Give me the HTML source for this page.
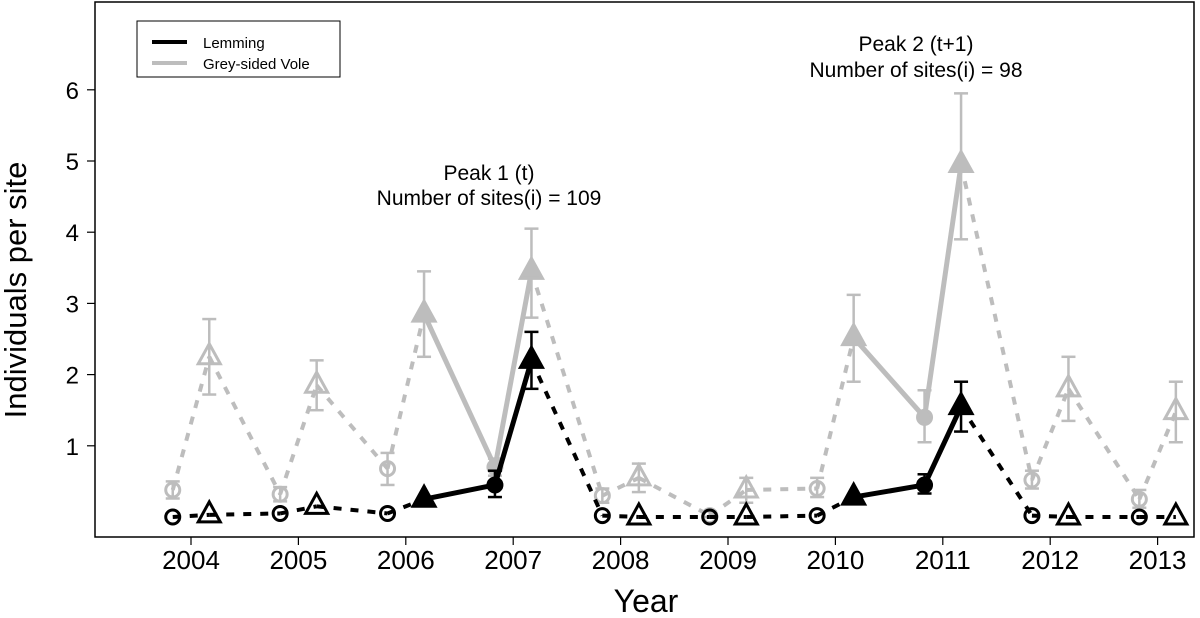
<!DOCTYPE html>
<html><head><meta charset="utf-8"><style>
body{margin:0;background:#fff}
svg{display:block;font-family:"Liberation Sans",sans-serif}
</style></head><body>
<svg id="chart" width="1200" height="618" viewBox="0 0 1200 618">
<rect x="95" y="2" width="1099" height="535" fill="none" stroke="#000" stroke-width="1.5"/>
<g id="g"></g>
<text x="26" y="290" font-size="31" text-anchor="middle" transform="rotate(-90 26 290)">Individuals per site</text>
<text x="646" y="612" font-size="32" text-anchor="middle">Year</text>
<text x="489" y="180" font-size="21" text-anchor="middle">Peak 1 (t)</text>
<text x="489" y="205" font-size="21" text-anchor="middle">Number of sites(i) = 109</text>
<text x="916" y="51" font-size="21" text-anchor="middle">Peak 2 (t+1)</text>
<text x="916" y="77" font-size="21" text-anchor="middle">Number of sites(i) = 98</text>
<g>
<rect x="137" y="21" width="203" height="56" fill="#fff" stroke="#000" stroke-width="1"/>
<line x1="152" y1="42" x2="187" y2="42" stroke="#000" stroke-width="4"/>
<text x="203" y="48" font-size="15">Lemming</text>
<line x1="152" y1="63" x2="187" y2="63" stroke="#bdbdbd" stroke-width="4"/>
<text x="203" y="69" font-size="15">Grey-sided Vole</text>
</g>
</svg>
<script>
const years=[2004,2005,2006,2007,2008,2009,2010,2011,2012,2013];
const yTicks=[1,2,3,4,5,6];
const lemCirc=[0,0.05,0.05,0.45,0.02,0,0.02,0.45,0.02,0];
const lemTri=[0.03,0.15,0.25,2.2,0,0,0.28,1.55,0,0];
const lemCircLo=[0,0,0,0.28,0,0,0,0.33,0,0];
const lemCircHi=[0,0,0,0.65,0,0,0,0.6,0,0];
const lemTriLo=[0,0,0,1.8,0,0,0,1.2,0,0];
const lemTriHi=[0,0,0,2.6,0,0,0,1.9,0,0];
const voleCirc=[0.38,0.32,0.68,0.7,0.3,0.02,0.4,1.4,0.52,0.25];
const voleCircLo=[0.26,0.22,0.45,0.58,0.2,0,0.28,1.05,0.4,0.13];
const voleCircHi=[0.5,0.42,0.9,0.82,0.4,0.08,0.55,1.78,0.65,0.38];
const voleTri=[2.25,1.85,2.85,3.45,0.55,0.38,2.52,4.95,1.8,1.48];
const voleTriLo=[1.72,1.5,2.25,2.8,0.35,0.2,1.9,3.9,1.35,1.05];
const voleTriHi=[2.78,2.2,3.45,4.05,0.75,0.55,3.12,5.95,2.25,1.9];
const circFilled=[false,false,false,true,false,false,false,true,false,false];
const triFilled=[false,false,true,true,false,false,true,true,false,false];
const X=t=>191+(t-2004)*107.4, Y=v=>517-v*71.2;
const g=document.getElementById('g'),NS='http://www.w3.org/2000/svg';
function mk(tag,a,name){const e=document.createElementNS(NS,tag);for(const k in a)e.setAttribute(k,a[k]);


g.appendChild(e);return e;}
years.forEach(y=>{mk('line',{x1:X(y),x2:X(y),y1:537,y2:545,stroke:'#000','stroke-width':1.2},'x-tick');
const t=mk('text',{x:X(y),y:569,'font-size':26,'text-anchor':'middle'},'x-tick-label');t.textContent=y;});
yTicks.forEach(v=>{mk('line',{x1:87,x2:95,y1:Y(v),y2:Y(v),stroke:'#000','stroke-width':1.2},'y-tick');
const t=mk('text',{x:79,y:Y(v)+9,'font-size':24,'text-anchor':'end'},'y-tick-label');t.textContent=v;});
function series(circ,tri,cLo,cHi,tLo,tHi,col,name){
 const pts=[];years.forEach((y,i)=>{pts.push({x:X(y-0.17),v:circ[i],lo:cLo[i],hi:cHi[i],s:'c',f:circFilled[i]});pts.push({x:X(y+0.17),v:tri[i],lo:tLo[i],hi:tHi[i],s:'t',f:triFilled[i]});});
 for(let k=0;k<pts.length-1;k++){const a=pts[k],b=pts[k+1];const solid=a.f&&b.f;
  mk('line',{x1:a.x,y1:Y(a.v),x2:b.x,y2:Y(b.v),stroke:col,'stroke-width':solid?5:4,'stroke-dasharray':solid?'':'8 9'},name+'-line');}
 pts.forEach(p=>{if(p.hi>p.lo){mk('line',{x1:p.x,x2:p.x,y1:Y(p.lo),y2:Y(p.hi),stroke:col,'stroke-width':2.5},name+'-errorbar');
  [p.lo,p.hi].forEach(v=>mk('line',{x1:p.x-7,x2:p.x+7,y1:Y(v),y2:Y(v),stroke:col,'stroke-width':2.5},name+'-errorcap'));}
  const fill=p.f?col:'none';
  if(p.s=='c')mk('circle',{cx:p.x,cy:Y(p.v),r:7,fill:fill,stroke:col,'stroke-width':3},name+'-point');
  else{const x=p.x,y=Y(p.v);mk('polygon',{points:`${x},${y-13} ${x-11},${y+7} ${x+11},${y+7}`,fill:fill,stroke:col,'stroke-width':3},name+'-point');}});
}
series(voleCirc,voleTri,voleCircLo,voleCircHi,voleTriLo,voleTriHi,'#bdbdbd','vole');
series(lemCirc,lemTri,lemCircLo,lemCircHi,lemTriLo,lemTriHi,'#000','lemming');
</script>
</body></html>
